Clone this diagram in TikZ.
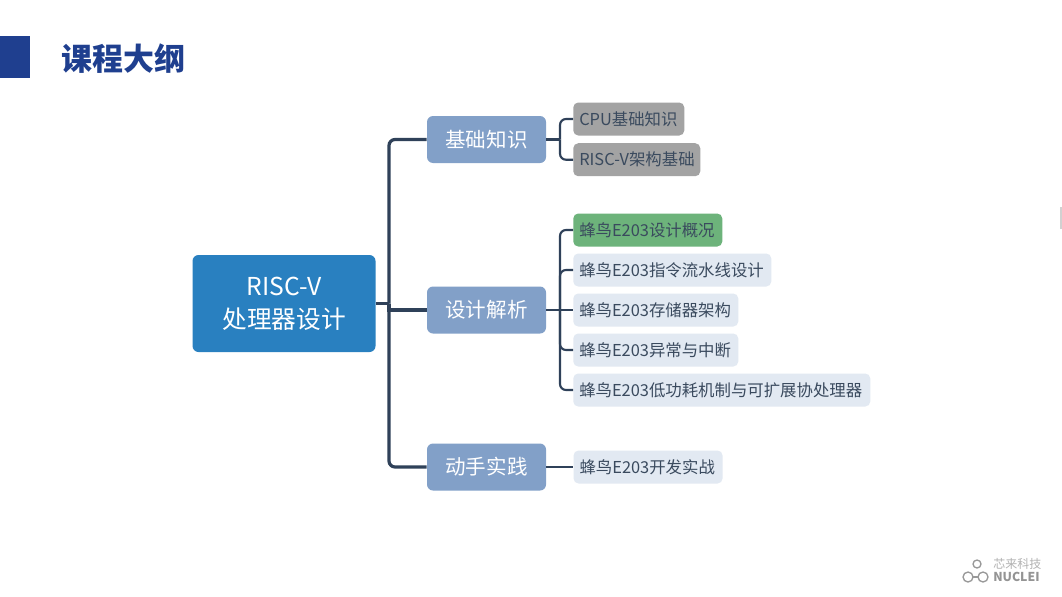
\documentclass[tikz,border=0pt]{standalone}
\usepackage{fontspec}
\setmainfont{Noto Sans CJK SC}
\usetikzlibrary{positioning}
\definecolor{rootblue}{HTML}{2980C0}
\definecolor{branchblue}{HTML}{82A0C8}
\definecolor{leafpale}{HTML}{E2E9F2}
\definecolor{leafgray}{HTML}{A3A3A3}
\definecolor{leafgreen}{HTML}{6DB37B}
\definecolor{linkdark}{HTML}{2F4159}
\definecolor{leaftext}{HTML}{3A4A5E}
\definecolor{titleblue}{HTML}{1F3F8F}
\tikzset{
    root/.style={fill=rootblue,text=white,rounded corners=4.5pt,minimum width=137.25pt,minimum height=72.75pt,align=center,inner sep=0pt,font=\fontsize{18.5}{25}\selectfont},
    branch/.style={fill=branchblue,text=white,rounded corners=4.5pt,minimum width=89.25pt,minimum height=35.25pt,inner sep=0pt,font=\fontsize{15.4}{18}\selectfont},
    leaf/.style={fill=leafpale,text=leaftext,rounded corners=3.75pt,text width=#1*0.75pt-9pt,minimum height=24.75pt,inner xsep=4.5pt,inner ysep=0pt,font=\fontsize{12.3}{15}\selectfont},
    trunk/.style={draw=linkdark,line width=2.4pt,rounded corners=4.5pt},
    twig/.style={draw=linkdark,line width=1.6pt,rounded corners=4.5pt},
    badge/.style={draw=black!40,line width=1pt}
}
\begin{document}
\begin{tikzpicture}[x=0.75pt,y=-0.75pt]
    \useasboundingbox (0,0) rectangle (1062,596);
    \fill[white] (0,0) rectangle (1062,596);
    % title
    \fill[titleblue] (0,36) rectangle (30,78);
    \node[anchor=west,inner sep=0pt,text=titleblue,font=\fontsize{23.2}{26}\selectfont\bfseries] (title) at (61,59) {课程大纲};
    % map nodes
    \node[root] (risc) at (284,303.5) {RISC-V\\处理器设计};
    \node[branch] (basic) at (486.5,139.5) {基础知识};
    \node[branch] (design) at (486.5,310) {设计解析};
    \node[branch] (lab) at (486.5,467) {动手实践};
    \node[leaf=111,fill=leafgray,anchor=west] (cpu) at (573,119) {CPU基础知识};
    \node[leaf=127,fill=leafgray,below=5.4pt of cpu.south west,anchor=north west] (isa) {\mbox{RISC-V架构基础}};
    \node[leaf=149,fill=leafgreen,anchor=west] (overview) at (573,230) {蜂鸟E203设计概况};
    \node[leaf=198,below=4.85pt of overview.south west,anchor=north west] (pipe) {蜂鸟E203指令流水线设计};
    \node[leaf=165,below=4.85pt of pipe.south west,anchor=north west] (mem) {蜂鸟E203存储器架构};
    \node[leaf=165,below=4.85pt of mem.south west,anchor=north west] (irq) {蜂鸟E203异常与中断};
    \node[leaf=297,below=4.85pt of irq.south west,anchor=north west] (power) {蜂鸟E203低功耗机制与可扩展协处理器};
    \node[leaf=149,right=20.25pt of lab] (dev) {蜂鸟E203开发实战};
    % forks
    \coordinate (rootfork) at (389,303.5);
    \coordinate (basicfork) at (560,139.5);
    \coordinate (designfork) at (560,310);
    \draw[trunk] (risc.east) -- (rootfork);
    \draw[trunk] (rootfork) |- (basic.west);
    \draw[trunk,rounded corners=0pt] (rootfork) |- (design.west);
    \draw[trunk] (rootfork) |- (lab.west);
    \draw[twig] (basic.east) -- (basicfork);
    \draw[twig] (basicfork) |- (cpu.west);
    \draw[twig] (basicfork) |- (isa.west);
    \draw[twig] (design.east) -- (mem.west);
    \draw[twig] (designfork) |- (overview.west);
    \draw[twig] (designfork) |- (pipe.west);
    \draw[twig] (designfork) |- (irq.west);
    \draw[twig] (designfork) |- (power.west);
    \draw[twig] (lab.east) -- (dev.west);
    % logo
    \node[anchor=west,inner sep=0pt,text=black!42,font=\fontsize{9.2}{10}\selectfont\bfseries] (brand) at (993,577) {NUCLEI};
    \node[anchor=west,inner sep=0pt,text=black!30,font=\fontsize{9}{10}\selectfont] (brandcn) at (993,563.5) {芯来科技};
    \draw[badge] (968,577) circle (5);
    \draw[badge] (983,577) circle (5);
    \draw[badge] (973,577) -- (978,577);
    \draw[badge] (977,564) circle (4);
    % edge mark
    \fill[black!18] (1060,207) rectangle (1062,229);
\end{tikzpicture}
\end{document}
